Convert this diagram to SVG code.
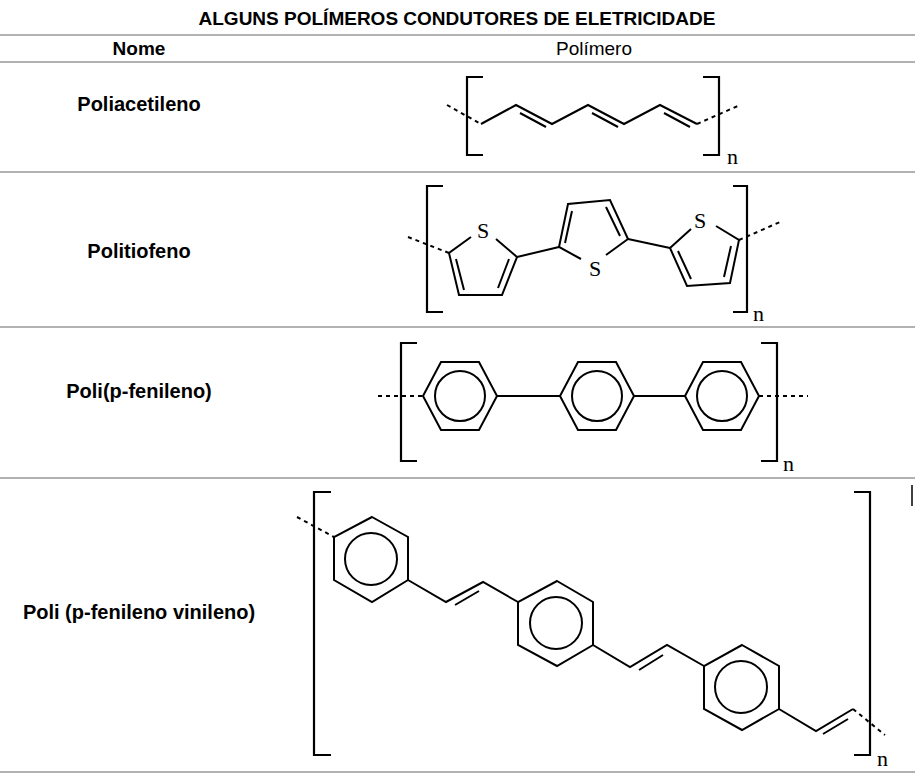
<svg xmlns="http://www.w3.org/2000/svg" width="915" height="780" viewBox="0 0 915 780">
<style>
.t{font-family:"Liberation Sans",Arial,sans-serif;font-size:20px;fill:#000}
.h{font-size:19px}
.b{font-weight:bold}
.s{font-family:"Liberation Serif","Times New Roman",serif;font-size:22px;fill:#000}
.g{stroke:#999;stroke-width:1.3}
.m{fill:none;stroke:#000;stroke-width:2;stroke-linejoin:miter}
.d{fill:none;stroke:#000;stroke-width:2;stroke-dasharray:4,4}
.k{fill:none;stroke:#000;stroke-width:2.2}
</style>
<rect width="915" height="780" fill="#fff"/>
<g id="grid">
<line class="g" x1="0" y1="35" x2="915" y2="35"/>
<line class="g" x1="0" y1="62" x2="915" y2="62"/>
<line class="g" x1="0" y1="172" x2="915" y2="172"/>
<line class="g" x1="0" y1="327" x2="915" y2="327"/>
<line class="g" x1="0" y1="478" x2="915" y2="478"/>
<line class="g" x1="0" y1="772" x2="915" y2="772"/>
<line x1="912" y1="485" x2="912" y2="506" stroke="#000" stroke-width="1.5"/>
<text class="t h b" x="457" y="25" text-anchor="middle">ALGUNS POLÍMEROS CONDUTORES DE ELETRICIDADE</text>
<text class="t h b" x="139" y="55" text-anchor="middle">Nome</text>
<text class="t h" x="594" y="55" text-anchor="middle">Polímero</text>
</g>
<g id="poliacetileno">
<text class="t b" x="139" y="111" text-anchor="middle">Poliacetileno</text>
<path class="k" d="M483,77 H467 V155 H483 M703,77 H719 V155 H703"/>
<text class="s" x="727" y="164">n</text>
<line class="d" x1="447" y1="105" x2="481" y2="124"/>
<path class="m" d="M481,124 L516,105 L552,124 L588,105 L624,124 L660,105 L697,124"/>
<path class="m" d="M520,113 L546,127 M592,113 L618,127 M664,113 L690,127"/>
<line class="d" x1="697" y1="124" x2="740" y2="105"/>
</g>
<g id="politiofeno">
<text class="t b" x="139" y="258" text-anchor="middle">Politiofeno</text>
<path class="k" d="M443,186 H427 V312 H443 M733,186 H747 V312 H733"/>
<text class="s" x="753" y="321">n</text>
<line class="d" x1="408" y1="237" x2="449" y2="253"/>
<path class="m" d="M471,237 L449,253 L459,295 L502,295 L517,257 L496,239"/>
<path class="m" d="M456,259 L464,290 M509,259 L498,288"/>
<text class="s" x="477" y="238">S</text>
<line class="m" x1="517" y1="257" x2="559" y2="247"/>
<path class="m" d="M581,259 L559,247 L568,204 L610,200 L628,239 L606,255"/>
<path class="m" d="M565,243 L572,211 M606,207 L620,236"/>
<text class="s" x="589" y="276">S</text>
<line class="m" x1="628" y1="239" x2="670" y2="248"/>
<path class="m" d="M691,229 L670,248 L687,286 L730,283 L739,240 L716,226"/>
<path class="m" d="M678,251 L691,279 M731,246 L724,277"/>
<text class="s" x="694" y="228">S</text>
<line class="d" x1="739" y1="240" x2="780" y2="222"/>
</g>
<g id="polifenileno">
<text class="t b" x="139" y="398" text-anchor="middle">Poli(p-fenileno)</text>
<path class="k" d="M417,343 H401 V461 H417 M761,343 H777 V461 H761"/>
<text class="s" x="783" y="471">n</text>
<line class="d" x1="378" y1="396" x2="423" y2="396"/>
<path class="m" d="M423,396 L441,362 L479,362 L497,396 L479,430 L441,430 Z"/>
<circle class="m" cx="460" cy="396" r="25"/>
<line class="m" x1="497" y1="396" x2="560" y2="396"/>
<path class="m" d="M560,396 L578,362 L616,362 L634,396 L616,430 L578,430 Z"/>
<circle class="m" cx="597" cy="396" r="25"/>
<line class="m" x1="634" y1="396" x2="685" y2="396"/>
<path class="m" d="M685,396 L703,362 L741,362 L759,396 L741,430 L703,430 Z"/>
<circle class="m" cx="722" cy="396" r="25"/>
<line class="d" x1="759" y1="396" x2="808" y2="396"/>
</g>
<g id="ppv">
<text class="t b" x="139" y="619" text-anchor="middle">Poli (p-fenileno vinileno)</text>
<path class="k" d="M331,492 H314 V755 H331 M854,492 H870 V755 H854"/>
<text class="s" x="877" y="766">n</text>
<line class="d" x1="297" y1="517" x2="334" y2="537"/>
<path class="m" d="M372,517 L408,537 L408,580 L372,602 L334,580 L334,537 Z"/>
<circle class="m" cx="371" cy="559" r="26"/>
<path class="m" d="M408,580 L446,602 L483,582 L518,602"/>
<line class="m" x1="455" y1="605" x2="479" y2="591"/>
<path class="m" d="M557,581 L593,602 L593,645 L557,666 L518,645 L518,602 Z"/>
<circle class="m" cx="556" cy="623" r="26"/>
<path class="m" d="M593,645 L630,667 L667,645 L704,666"/>
<line class="m" x1="639" y1="670" x2="663" y2="655"/>
<path class="m" d="M742,645 L779,666 L779,709 L742,730 L704,709 L704,666 Z"/>
<circle class="m" cx="741" cy="687" r="26"/>
<path class="m" d="M779,709 L816,731 L853,709"/>
<line class="m" x1="823" y1="734" x2="848" y2="719"/>
<line class="d" x1="853" y1="709" x2="885" y2="735"/>
</g>
</svg>
